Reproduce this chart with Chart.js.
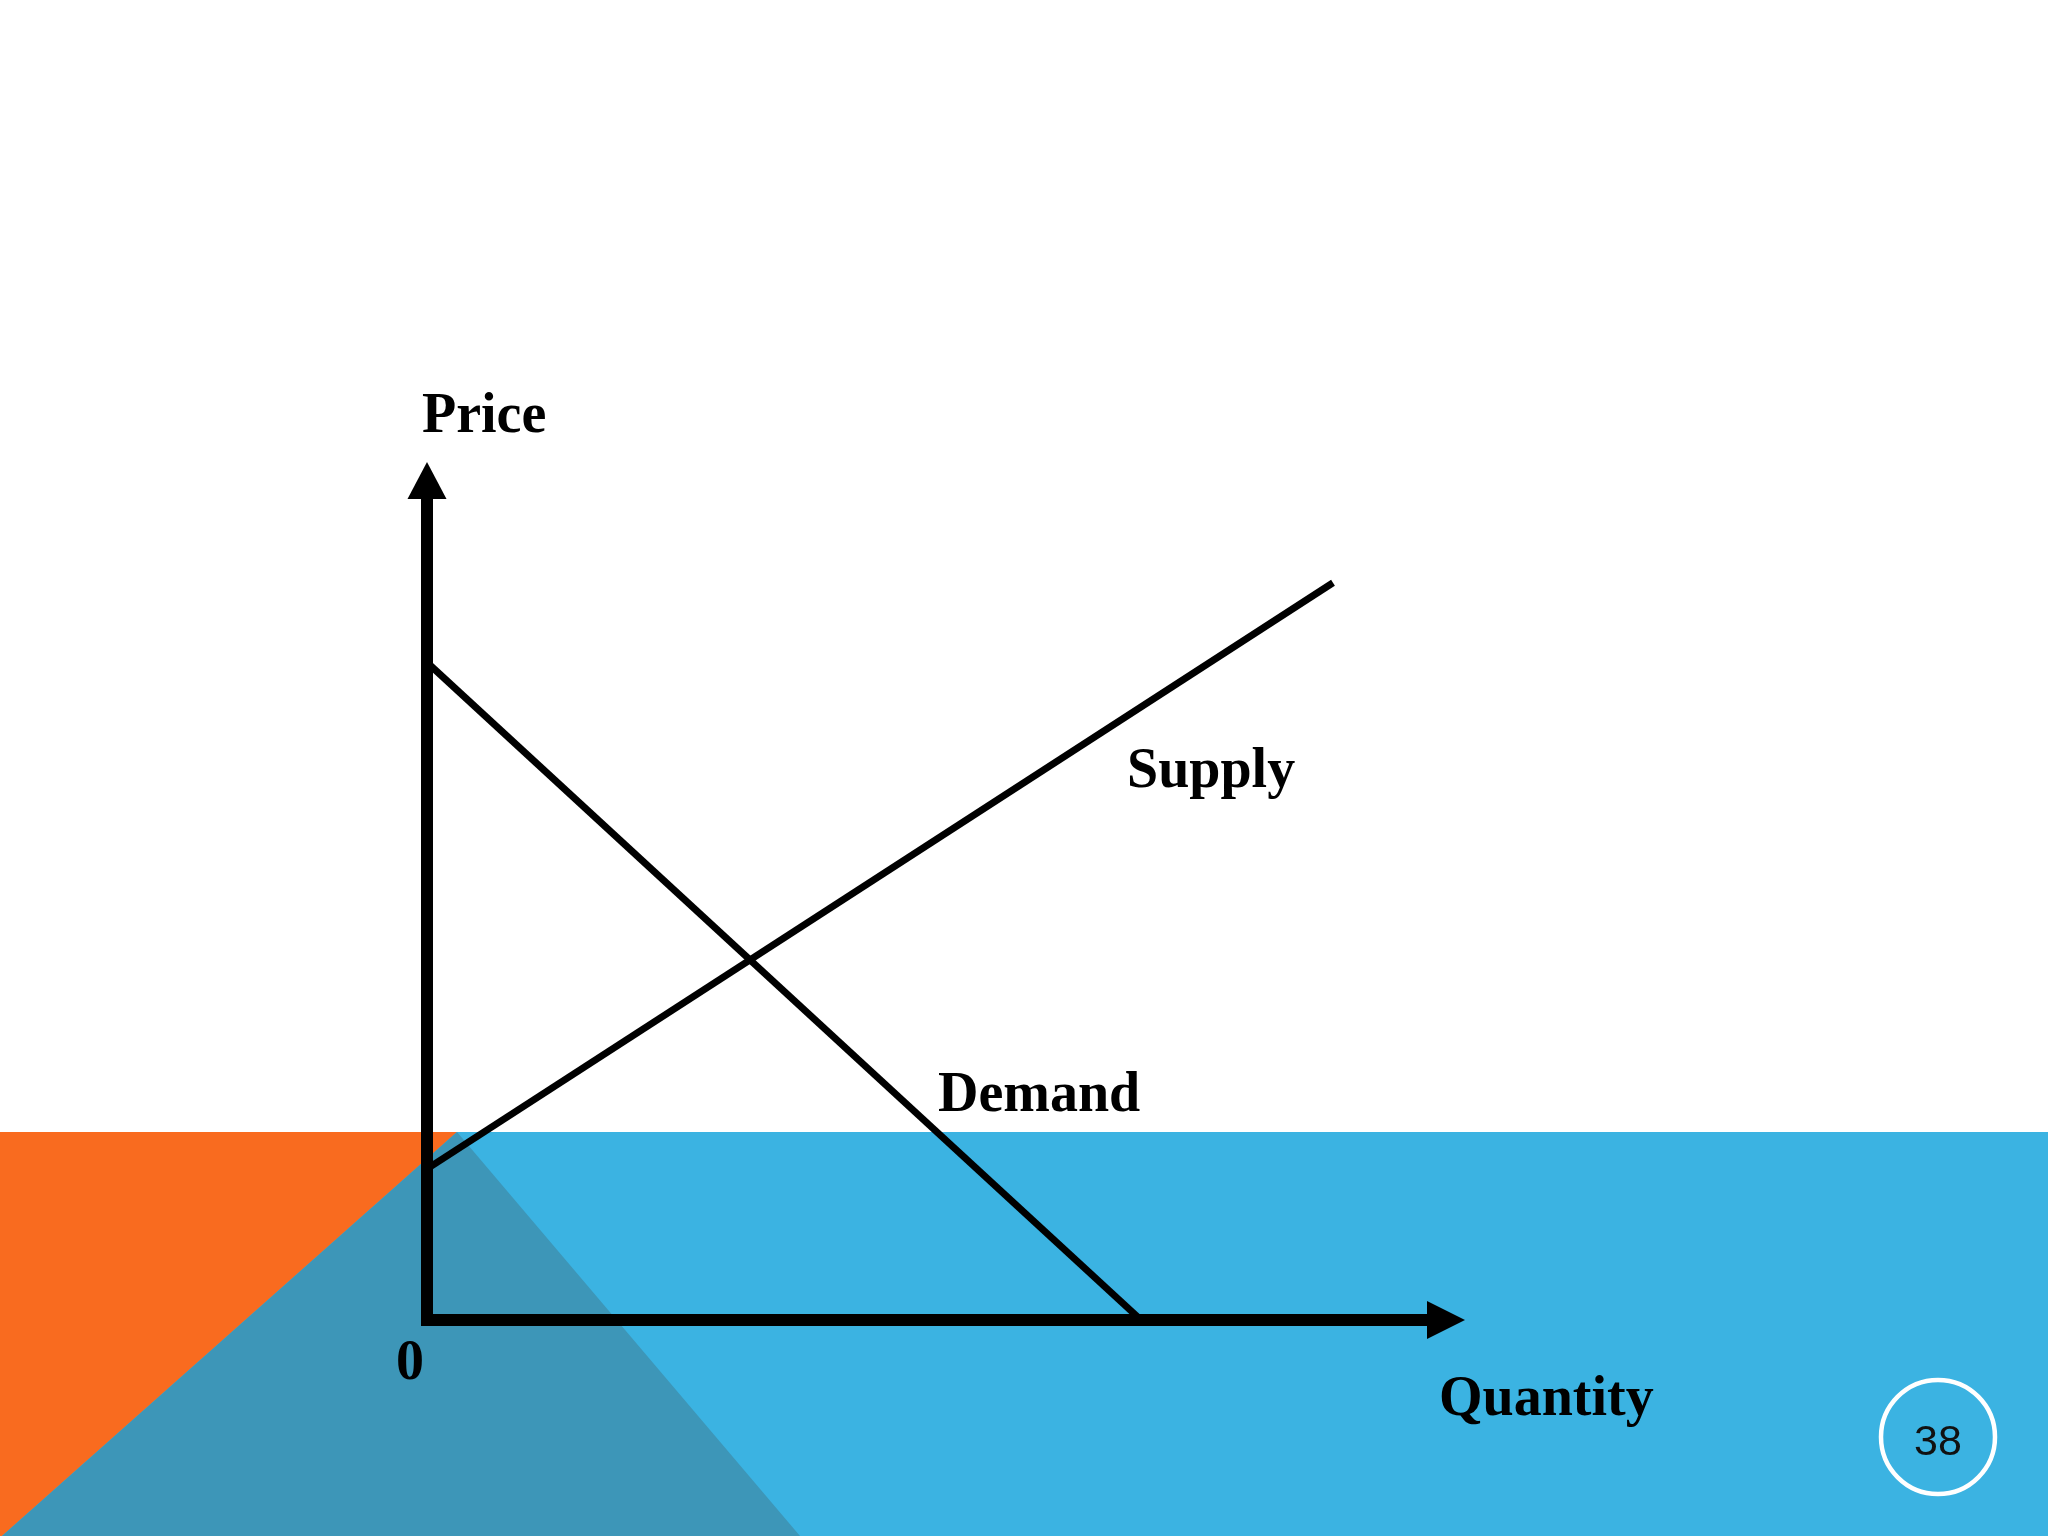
<!DOCTYPE html>
<html>
<head>
<meta charset="utf-8">
<script src="https://cdn.jsdelivr.net/npm/chart.js@4"></script>
<style>
  html, body { margin: 0; padding: 0; background: #ffffff; }
  #myChart { display: block; }
</style>
</head>
<body>
<canvas id="myChart" width="2048" height="1536"></canvas>
<script>
// values (quantity 0..10, price 0..10)
const demandQty = [0, 7.14];
const demandPrice = [8.01, 0];
const supplyQty = [0, 9.06];
const supplyPrice = [1.84, 8.98];
const axisRange = [0, 10];
const originLabel = "0";
const axisTitles = ["Price", "Quantity"];
const curveNames = ["Supply", "Demand"];
const slideNumber = "38";

const toPoints = (xs, ys) => xs.map((x, i) => ({ x: x, y: ys[i] }));

// slide background: white top, blue band, orange / dark triangles
const slideBackground = {
  id: "slideBackground",
  beforeDraw(chart) {
    const ctx = chart.ctx;
    const w = chart.width, h = chart.height;
    ctx.save();
    ctx.fillStyle = "#ffffff";
    ctx.fillRect(0, 0, w, h);
    ctx.fillStyle = "#3bb3e2";
    ctx.fillRect(0, 1132, w, h - 1132);
    ctx.fillStyle = "#f96b1f";
    ctx.beginPath();
    ctx.moveTo(0, 1132);
    ctx.lineTo(457, 1132);
    ctx.lineTo(2, 1536);
    ctx.lineTo(0, 1536);
    ctx.closePath();
    ctx.fill();
    ctx.fillStyle = "#3d96b8";
    ctx.beginPath();
    ctx.moveTo(457, 1132);
    ctx.lineTo(800, 1536);
    ctx.lineTo(2, 1536);
    ctx.closePath();
    ctx.fill();
    ctx.restore();
  },
};

// arrow heads on the axes, text labels, page number
const slideDecor = {
  id: "slideDecor",
  afterDraw(chart) {
    const ctx = chart.ctx;
    const xs = chart.scales.x, ys = chart.scales.y;
    const ox = xs.getPixelForValue(axisRange[0]);
    const oy = ys.getPixelForValue(axisRange[0]);
    const topY = ys.getPixelForValue(axisRange[1]);
    const rightX = xs.getPixelForValue(axisRange[1]);

    ctx.save();
    ctx.fillStyle = "#000000";
    ctx.beginPath();
    ctx.moveTo(ox, topY - 37);
    ctx.lineTo(ox + 19.5, topY);
    ctx.lineTo(ox - 19.5, topY);
    ctx.closePath();
    ctx.fill();
    ctx.beginPath();
    ctx.moveTo(rightX + 38, oy);
    ctx.lineTo(rightX, oy - 19);
    ctx.lineTo(rightX, oy + 19);
    ctx.closePath();
    ctx.fill();

    ctx.font = 'bold 56px "Liberation Serif", "Times New Roman", serif';
    ctx.textBaseline = "alphabetic";
    ctx.textAlign = "left";
    ctx.fillText(axisTitles[0], 422, 432);
    ctx.fillText(axisTitles[1], 1439, 1415);
    ctx.fillText(curveNames[0], 1127, 787);
    ctx.fillText(curveNames[1], 938, 1111);
    ctx.textAlign = "center";
    ctx.fillText(originLabel, 410, 1379);

    ctx.strokeStyle = "#ffffff";
    ctx.lineWidth = 4.5;
    ctx.beginPath();
    ctx.arc(1938, 1437, 57, 0, Math.PI * 2);
    ctx.stroke();
    ctx.font = '43px "Liberation Sans", Arial, sans-serif';
    ctx.fillStyle = "#111111";
    ctx.fillText(slideNumber, 1938, 1455);
    ctx.restore();
  },
};

const data = {
  datasets: [
    {
      label: curveNames[1],
      data: toPoints(demandQty, demandPrice),
      borderColor: "#000000",
      borderWidth: 7,
      showLine: true,
      pointRadius: 0,
      clip: false,
    },
    {
      label: curveNames[0],
      data: toPoints(supplyQty, supplyPrice),
      borderColor: "#000000",
      borderWidth: 7,
      showLine: true,
      pointRadius: 0,
      clip: false,
    },
  ],
};

const axisOpts = {
  type: "linear",
  min: axisRange[0],
  max: axisRange[1],
  grid: { display: false, drawTicks: false },
  ticks: { display: false },
  border: { display: true, width: 12, color: "#000000" },
};

const config = {
  type: "scatter",
  data,
  options: {
    responsive: false,
    devicePixelRatio: 1,
    animation: false,
    layout: { padding: { left: 427, top: 499, right: 621, bottom: 216 } },
    scales: {
      x: Object.assign({ position: "bottom" }, axisOpts),
      y: Object.assign({ position: "left" }, axisOpts),
    },
    plugins: {
      legend: { display: false },
      tooltip: { enabled: false },
    },
  },
  plugins: [slideBackground, slideDecor],
};

var myChart = new Chart(document.getElementById("myChart"), config);
</script>
</body>
</html>
